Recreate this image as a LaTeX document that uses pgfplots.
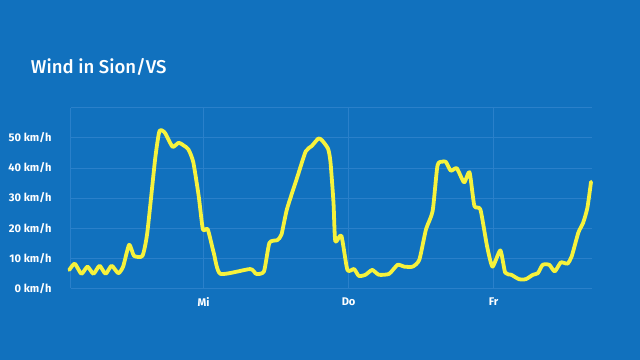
\documentclass[border=0pt]{standalone}
\usepackage{pgfplots}
\pgfplotsset{compat=1.18}
\usepackage{fontspec}
\setmainfont{Fira Sans}
\newfontfamily\titlefont{Fira Sans Medium}
\definecolor{bgblue}{RGB}{17,113,190}
\definecolor{gridblue}{RGB}{42,128,202}
\definecolor{lineyellow}{RGB}{246,242,60}
\begin{document}
\begin{tikzpicture}
\begin{scope}[x=0.025cm,y=0.025cm]
\fill[bgblue] (0,0) rectangle (640,360);
\useasboundingbox (0,0) rectangle (640,360);
\node[anchor=base west,text=white,font=\titlefont\fontsize{13.2}{16}\selectfont,inner sep=0pt] at (30.7,286.7) {Wind in Sion/VS};
\end{scope}
\begin{axis}[
  at={(1.7625cm,1.7925cm)}, anchor=south west,
  scale only axis, width=13.04cm, height=4.51cm,
  xmin=-22, xmax=64.3, ymin=0, ymax=60,
  axis line style={draw=none},
  xtick={0,24,48}, xticklabels={Mi,Do,Fr},
  ytick={0,10,20,30,40,50,60},
  yticklabels={0 km/h,10 km/h,20 km/h,30 km/h,40 km/h,50 km/h,{}},
  extra x ticks={-22}, extra x tick labels={},
  extra x tick style={grid=major},
  grid=major,
  major grid style={gridblue, line width=0.6pt},
  tick style={draw=none},
  ticklabel style={text=white, font=\bfseries\fontsize{7.9}{9}\selectfont},
  yticklabel style={anchor=east, xshift=-10pt},
  xticklabel style={anchor=north, yshift=-3pt},
  clip=false,
]
\addplot[lineyellow, line width=2.7pt, smooth, tension=0.35, line cap=round, line join=round] coordinates {
(-22.2,6.1) (-21.3,8.2) (-20.2,4.8) (-19.2,7.2) (-18.2,4.8) (-17.2,7.5) (-16.2,4.8)
(-15.2,7.5) (-14.1,5.0) (-13.3,7.2) (-12.3,14.5) (-11.5,10.8) (-10.1,10.8) (-9.3,18.5)
(-8.0,43) (-7.3,52.2) (-6.5,52) (-6.0,50.3) (-5.1,47) (-4.1,48.4) (-3.3,47.5) (-2.5,46.2)
(-1.7,42) (-0.8,30.7) (-0.1,19.6) (0.7,19.6) (1.7,11.7) (2.8,4.8) (7.7,6.4) (8.7,4.8)
(10.0,5.6) (10.9,15.1) (12.2,16) (12.9,17.9) (13.8,26.3) (15.5,36.9) (16.9,45.5)
(17.9,47.3) (19.0,49.8) (19.6,49.2) (20.6,46.4) (21.0,42) (21.5,28.5) (21.8,15.6)
(22.8,17.5) (23.8,6.1) (24.9,6.4) (25.7,4.1) (26.8,4.5) (27.9,6.1) (29.0,4.5) (30.7,4.8)
(32.1,7.8) (33.2,7.2) (34.6,7.2) (35.7,9.5) (36.8,19.6) (37.9,25.7) (38.7,40.8)
(39.5,42.1) (40.1,42) (40.9,39.1) (41.9,39.9) (43.1,35.2) (44.0,38.6) (44.8,27.4)
(45.8,26.2) (46.9,14) (47.8,7.2) (49.1,12.6) (49.9,5.2) (50.9,4.5) (52.2,3.0) (53.3,3.0)
(54.5,4.5) (55.3,5.0) (56.1,7.8) (57.2,7.8) (58.1,5.6) (59.1,8.6) (60.2,8.2) (60.9,10.6)
(62.0,18.5) (62.8,21.8) (63.5,26.8) (64.1,35.4)
};
\end{axis}
\end{tikzpicture}
\end{document}
